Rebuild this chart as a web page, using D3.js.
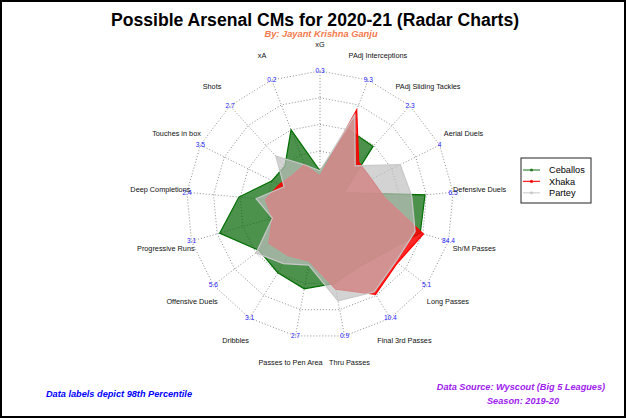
<!DOCTYPE html>
<html>
<head>
<meta charset="utf-8">
<script src="https://d3js.org/d3.v7.min.js"></script>
<style>
  body { margin: 0; background: #fff; }
  text { font-family: "Liberation Sans", Arial, sans-serif; }
</style>
</head>
<body>
<script>
var w = 626;
var h = 418;
var cx = 320;
var cy = 204.6;
var radius = 133.6;

// axis names, clockwise from the top
var axes = ["xG", "PAdj Interceptions", "PAdj Sliding Tackles", "Aerial Duels", "Defensive Duels",
            "Sh/M Passes", "Long Passes", "Final 3rd Passes", "Thru Passes", "Passes to Pen Area",
            "Dribbles", "Offensive Duels", "Progressive Runs", "Deep Completions", "Touches in box",
            "Shots", "xA"];

// 98th percentile of each metric (outer ring)
var maxValues = [0.3, 9.3, 2.3, 4, 6.5, 84.4, 5.1, 10.4, 0.9, 2.7, 3.1, 5.6, 3.1, 2.4, 3.5, 2.7, 0.2];
var maxLabels = ["0.3", "9.3", "2.3", "4", "6.5", "84.4", "5.1", "10.4", "0.9", "2.7", "3.1", "5.6", "3.1", "2.4", "3.5", "2.7", "0.2"];

// per 90 values for each player
var ceballos = [0.02, 4.65, 1.12, 0, 4.79, 61.2, 2.55, 4.55, 0.45, 1.49, 1.55, 2.59, 2.25, 1.23, 0.88, 0.64, 0.1];
var xhaka    = [0.005, 6.51, 0.66, 1.15, 2.36, 63.8, 3.35, 7.67, 0.5, 0.78, 0.97, 1.96, 0.66, 0.63, 0.61, 0.34, 0.03];
var partey   = [0.02, 6.05, 0.55, 2.35, 3.98, 57.0, 3.25, 7.4, 0.6, 0.88, 1.24, 2.8, 0.66, 0.84, 0.44, 0.98, 0.03];

var players = ["Ceballos", "Xhaka", "Partey"];
var series = [ceballos, xhaka, partey];
var fills = ["rgba(0,100,0,0.7)", "rgba(255,0,0,0.85)", "rgba(192,192,192,0.7)"];
var strokes = ["rgb(0,110,0)", "rgb(255,0,0)", "rgb(200,200,200)"];

var segments = 4;
var gap = 1; // fmsb keeps the centre empty: zero sits on the first ring

var svg = d3.select("body")
            .append("svg")
            .attr("width", w)
            .attr("height", h);

// outer frame
svg.append("rect")
   .attr("x", 1).attr("y", 1)
   .attr("width", w - 2).attr("height", h - 2)
   .attr("fill", "none")
   .attr("stroke", "#000")
   .attr("stroke-width", 2);

// angle for each axis, clockwise from 12 o'clock
var angle = d3.scaleLinear()
              .domain([0, axes.length])
              .range([0, 2 * Math.PI]);

// one radial scale per axis
var rScales = maxValues.map(function (m) {
    return d3.scaleLinear()
             .domain([0, m])
             .range([radius * gap / (segments + gap), radius]);
});

var g = svg.append("g")
           .attr("transform", "translate(" + cx + "," + cy + ")");

// concentric dotted rings
var ringLevels = d3.range(gap, segments + gap + 1).map(function (k) { return k / (segments + gap); });
var ringLine = d3.lineRadial()
                 .angle(function (d, i) { return angle(i); })
                 .radius(function (d) { return d; })
                 .curve(d3.curveLinearClosed);

g.selectAll(".ring")
 .data(ringLevels)
 .enter()
 .append("path")
 .attr("class", "ring")
 .attr("d", function (lv) {
     return ringLine(axes.map(function () { return lv * radius; }));
 })
 .attr("fill", "none")
 .attr("stroke", "#808080")
 .attr("stroke-width", 0.9)
 .attr("stroke-dasharray", "1,2");

// spokes
g.selectAll(".spoke")
 .data(axes)
 .enter()
 .append("line")
 .attr("class", "spoke")
 .attr("x1", function (d, i) { return Math.sin(angle(i)) * radius * gap / (segments + gap); })
 .attr("y1", function (d, i) { return -Math.cos(angle(i)) * radius * gap / (segments + gap); })
 .attr("x2", function (d, i) { return Math.sin(angle(i)) * radius; })
 .attr("y2", function (d, i) { return -Math.cos(angle(i)) * radius; })
 .attr("stroke", "#808080")
 .attr("stroke-width", 0.9)
 .attr("stroke-dasharray", "1,2");

// player polygons
var dataLine = d3.lineRadial()
                 .angle(function (d, i) { return angle(i); })
                 .radius(function (d, i) { return rScales[i](d); })
                 .curve(d3.curveLinearClosed);

g.selectAll(".player")
 .data(series)
 .enter()
 .append("path")
 .attr("class", "player")
 .attr("d", function (d) { return dataLine(d); })
 .attr("fill", function (d, i) { return fills[i]; })
 .attr("stroke", function (d, i) { return strokes[i]; })
 .attr("stroke-width", 1.2)
 .attr("stroke-linejoin", "miter");

// 98th percentile labels on the outer ring
g.selectAll(".maxLabel")
 .data(maxLabels)
 .enter()
 .append("text")
 .attr("class", "maxLabel")
 .attr("x", function (d, i) { return Math.sin(angle(i)) * radius; })
 .attr("y", function (d, i) { return -Math.cos(angle(i)) * radius; })
 .attr("dy", "0.35em")
 .attr("text-anchor", "middle")
 .attr("font-size", "6.6px")
 .attr("fill", "#1a1aff")
 .text(function (d) { return d; });

// axis names
g.selectAll(".axisLabel")
 .data(axes)
 .enter()
 .append("text")
 .attr("class", "axisLabel")
 .attr("x", function (d, i) { return Math.sin(angle(i)) * radius * 1.2; })
 .attr("y", function (d, i) { return -Math.cos(angle(i)) * radius * 1.2; })
 .attr("dy", "0.35em")
 .attr("text-anchor", "middle")
 .attr("font-size", "7.3px")
 .attr("fill", "#111")
 .text(function (d) { return d; });

// titles
svg.append("text")
   .attr("x", 315).attr("y", 26)
   .attr("text-anchor", "middle")
   .attr("font-size", "17.6px")
   .attr("font-weight", "bold")
   .text("Possible Arsenal CMs for 2020-21 (Radar Charts)");

svg.append("text")
   .attr("x", 321).attr("y", 37)
   .attr("text-anchor", "middle")
   .attr("font-size", "9.3px")
   .attr("font-weight", "bold")
   .attr("font-style", "italic")
   .attr("fill", "#f47a4c")
   .text("By: Jayant Krishna Ganju");

// legend
var legend = svg.append("g")
                .attr("transform", "translate(521,158)");

legend.append("rect")
      .attr("width", 70).attr("height", 45)
      .attr("fill", "#fff")
      .attr("stroke", "#222")
      .attr("stroke-width", 1);

var items = legend.selectAll(".item")
                  .data(players)
                  .enter()
                  .append("g")
                  .attr("class", "item")
                  .attr("transform", function (d, i) { return "translate(0," + (12 + i * 11.4) + ")"; });

items.append("line")
     .attr("x1", 2).attr("x2", 19)
     .attr("stroke", function (d, i) { return fills[i]; })
     .attr("stroke-width", 1.3);

items.append("circle")
     .attr("cx", 10.5).attr("r", 1.6)
     .attr("fill", function (d, i) { return fills[i]; });

items.append("text")
     .attr("x", 28)
     .attr("dy", "0.35em")
     .attr("font-size", "9.2px")
     .text(function (d) { return d; });

// footer notes
svg.append("text")
   .attr("x", 119).attr("y", 397)
   .attr("text-anchor", "middle")
   .attr("font-size", "9.2px")
   .attr("font-weight", "bold")
   .attr("font-style", "italic")
   .attr("fill", "#0000ff")
   .text("Data labels depict 98th Percentile");

svg.append("text")
   .attr("x", 521).attr("y", 390)
   .attr("text-anchor", "middle")
   .attr("font-size", "9.2px")
   .attr("font-weight", "bold")
   .attr("font-style", "italic")
   .attr("fill", "#a020f0")
   .text("Data Source: Wyscout (Big 5 Leagues)");

svg.append("text")
   .attr("x", 523).attr("y", 404)
   .attr("text-anchor", "middle")
   .attr("font-size", "9.2px")
   .attr("font-weight", "bold")
   .attr("font-style", "italic")
   .attr("fill", "#a020f0")
   .text("Season: 2019-20");
</script>
</body>
</html>
